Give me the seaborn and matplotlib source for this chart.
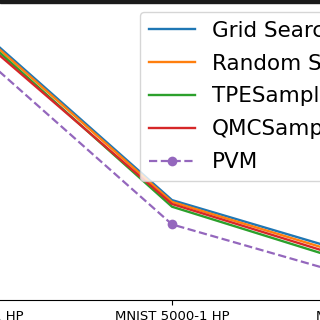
import matplotlib
matplotlib.use("Agg")
import matplotlib.pyplot as plt
import seaborn as sns
from matplotlib.patches import Rectangle

# data (y-axis is not visible so scale is relative)
datasets = ['MNIST 1000-1 HP', 'MNIST 5000-1 HP', 'MNIST 10000-1 HP']
grid_search = [0.941, 0.333, 0.130]
random_search = [0.934, 0.327, 0.119]
tpe_sampler = [0.925, 0.311, 0.097]
qmc_sampler = [0.912, 0.320, 0.108]
pvm = [0.860, 0.252, 0.055]

series = [
    ('Grid Search', grid_search, 'tab:blue'),
    ('Random Search', random_search, 'tab:orange'),
    ('TPESampler', tpe_sampler, 'tab:green'),
    ('QMCSampler', qmc_sampler, 'tab:red'),
]

W = H = 320
fig = plt.figure(figsize=(3.2, 3.2), dpi=100)
# the reference is a crop of a wider chart, so the axes run past the figure edges
ax = fig.add_axes([-54.6 / W, 20 / H, 453.2 / W, 300 / H])

for name, vals, col in series:
    sns.lineplot(x=datasets, y=vals, sort=False, ax=ax, color=col, lw=1.7, label=name)
sns.lineplot(x=datasets, y=pvm, sort=False, ax=ax, color='tab:purple', lw=1.6,
             linestyle='--', marker='o', markersize=7, markeredgewidth=0, label='PVM')

ax.set_xlim(-0.1, 2.1)
ax.set_ylim(0, 1)
ax.set_xticks(range(len(datasets)))
ax.set_xticklabels(datasets, fontsize=9.5)
ax.set_yticks([])

ax.legend(loc='upper left', bbox_to_anchor=(140 / W, 1 - 12 / H),
          bbox_transform=fig.transFigure, borderaxespad=0, fontsize=15.5,
          handlelength=2.15, labelspacing=0.6)

# dark band along the top edge of the crop
fig.patches.append(Rectangle((0, 1 - 2.5 / H), 1, 2.5 / H, transform=fig.transFigure,
                             color='#1a1a1a', zorder=10))

fig.savefig('out.png', dpi=100)
